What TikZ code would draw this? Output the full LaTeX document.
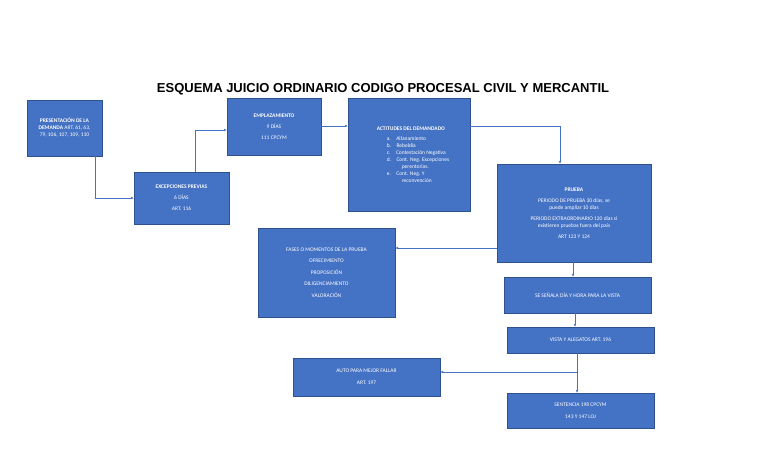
\documentclass[tikz,border=0pt]{standalone}
\usepackage{fontspec}
\setmainfont{Carlito}
\usetikzlibrary{arrows.meta}
\definecolor{bfill}{HTML}{4472C4}
\definecolor{bline}{HTML}{2F528F}
\begin{document}
\begin{tikzpicture}[x=1pt,y=-1pt,
  box/.style={draw=bline,fill=bfill,line width=0.8pt,text=white,font=\fontsize{5.5}{7}\selectfont,align=center},
  arr/.style={draw=bfill,line width=0.6pt,-{Latex[length=3pt,width=2.5pt]}}]
\useasboundingbox (0,0) rectangle (768,466);
\node[font=\fontsize{13}{15}\selectfont\bfseries\sffamily] (title) at (383,89) {\fontspec{Liberation Sans}\bfseries ESQUEMA JUICIO ORDINARIO CODIGO PROCESAL CIVIL Y MERCANTIL};
\path[box] (27,100) rectangle (102,156) node[midway,text=white] (pres) {\textbf{PRESENTACIÓN DE LA}\\\textbf{DEMANDA} ART. 61, 63,\\79, 106, 107, 109, 110};
\path[box] (134,172) rectangle (229,224) node[midway,font=\fontsize{5.5}{11}\selectfont] (exc) {\textbf{EXCEPCIONES PREVIAS}\\6 DÍAS\\ART. 116};
\path[box] (227,98) rectangle (321,155) node[midway,font=\fontsize{5.5}{11}\selectfont] (emp) {\textbf{EMPLAZAMIENTO}\\9 DÍAS\\111 CPCYM};
\path[box] (348,98) rectangle (470,211) node[midway,align=left] (act) {\hspace*{8pt}\textbf{ACTITUDES DEL DEMANDADO}\\[3pt]
\hspace*{18pt}a.\quad Allanamiento\\\hspace*{18pt}b.\quad Rebeldía\\\hspace*{18pt}c.\quad Contestación Negativa\\\hspace*{18pt}d.\quad Cont. Neg. Excepciones\\\hspace*{33pt}perentorias.\\\hspace*{18pt}e.\quad Cont. Neg. Y\\\hspace*{33pt}reconvención};
\path[box] (497,164) rectangle (651,262) node[midway] (pru) {\textbf{PRUEBA}\\[4pt]PERIODO DE PRUEBA 30 días, se\\puede ampliar 10 días\\[4pt]PERIODO EXTRAORDINARIO 120 días si\\existieren pruebas fuera del país\\[4pt]ART 123 Y 124};
\path[box] (258,228) rectangle (395,317) node[midway,font=\fontsize{5.5}{11.5}\selectfont] (fas) {FASES O MOMENTOS DE LA PRUEBA\\OFRECIMIENTO\\PROPOSICIÓN\\DILIGENCIAMIENTO\\VALORACIÓN};
\path[box] (504,277) rectangle (651,313) node[midway] (sen) {SE SEÑALA DÍA Y HORA PARA LA VISTA};
\path[box] (507,327) rectangle (654,353) node[midway] (vis) {VISTA Y ALEGATOS ART. 196};
\path[box] (293,358) rectangle (440,396) node[midway,font=\fontsize{5.5}{12}\selectfont] (aut) {AUTO PARA MEJOR FALLAR\\ART. 197};
\path[box] (507,393) rectangle (654,428) node[midway,font=\fontsize{5.5}{12}\selectfont] (sent) {SENTENCIA 198 CPCYM\\143 Y 147 LOJ};
\coordinate (p1) at (95,156); \coordinate (e1) at (134,198);
\draw[arr] (p1) |- (e1);
\coordinate (x1) at (195,172); \coordinate (m1) at (227,130);
\draw[arr] (x1) |- (m1);
\draw[arr] (321,126) -- (348,126);
\coordinate (a1) at (470,126); \coordinate (r1) at (560,164);
\draw[arr] (a1) -| (r1);
\draw[arr] (497,248) -- (395,248);
\draw[arr] (573,262) -- (573,277);
\draw[arr] (575,313) -- (575,327);
\coordinate (v1) at (577,353); \coordinate (v2) at (577,372);
\draw[arr] (v1) -- (577,393);
\draw[arr] (v2) -- (440,372);
\end{tikzpicture}
\end{document}
